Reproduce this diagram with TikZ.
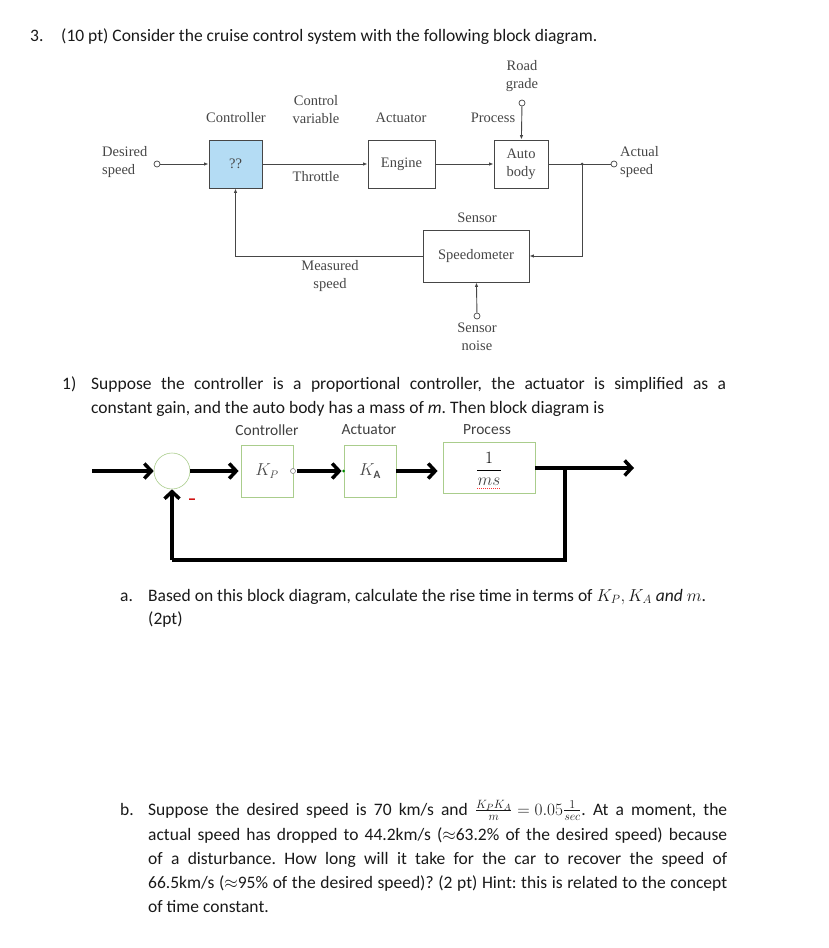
\documentclass[tikz,border=0pt]{standalone}
\usepackage{fontspec}
\setmainfont{Carlito}
\newfontfamily\serif{Liberation Serif}
\usetikzlibrary{arrows.meta,calc}
\definecolor{ctrlblue}{RGB}{180,220,244}
\definecolor{tgray}{RGB}{70,70,70}
\definecolor{boxgreen}{RGB}{170,205,140}
\frenchspacing
\begin{document}
\begin{tikzpicture}[x=1pt,y=-1pt,
  tl/.style={font=\serif\fontsize{14.5}{18}\selectfont, text=tgray, align=center, inner sep=0},
  tbox/.style={draw=tgray, line width=0.9pt, inner sep=0, font=\serif\fontsize{14.5}{18}\selectfont, text=tgray, align=center},
  tline/.style={draw=tgray, line width=0.9pt},
  tarr/.style={tline, -{Latex[length=4.5pt,width=3.5pt]}},
  port/.style={circle, draw=tgray, line width=0.7pt, fill=white, minimum size=6pt, inner sep=0},
  dot/.style={circle, fill=tgray, minimum size=3pt, inner sep=0},
  bbox/.style={draw=boxgreen, line width=0.8pt, inner sep=0, font=\fontsize{16}{18}\selectfont, text=black!70},
  blab/.style={font=\fontsize{15.5}{17}\selectfont, text=black!75, inner sep=0},
  barr/.style={line width=3.5pt, -{Straight Barb[length=7pt,width=15pt,line width=3.5pt]}},
  bline/.style={line width=3.5pt},
  body/.style={font=\fontsize{17.5}{24}\selectfont, anchor=base west, inner sep=0, text=black!90}
]
\useasboundingbox (0,0) rectangle (828,948);

% ---------------- title ----------------
\node[body] (n3) at (30,41) {3.};
\node[body] (title) at (61,41) {(10 pt) Consider the cruise control system with the following block diagram.};

% ---------------- top block diagram ----------------
\node[tbox, fill=ctrlblue, minimum width=53pt, minimum height=48pt] (ctrl) at (235.5,164) {??};
\node[tbox, minimum width=67pt, minimum height=48pt] (eng) at (401.5,164) {Engine};
\node[tbox, minimum width=54pt, minimum height=48pt] (auto) at (521,164) {Auto\\body};
\node[tbox, minimum width=106pt, minimum height=52pt] (speedo) at (476,256) {Speedometer};

\node[port] (din) at (157,164) {};
\node[port] (dout) at (614,164) {};
\node[port] (road) at (522,103) {};
\node[port] (noise) at (477,316) {};
\node[dot] (br) at (582,164) {};

\draw[tarr] (din) -- (ctrl);
\draw[tarr] (ctrl) -- (eng);
\draw[tarr] (eng) -- (auto);
\draw[tline] (auto) -- (dout);
\draw[tarr] (road) -- (auto);
\draw[tarr] (br.center) |- (speedo.east);
\draw[tarr] (speedo.west) -| (ctrl.south);
\draw[tarr] (noise) -- (speedo);

\node[tl, anchor=west, align=left] (ldes) at (102,162) {Desired\\speed};
\node[tl, anchor=west, align=left] (lact) at (620,162) {Actual\\speed};
\node[tl] (lctrl) at (236,118) {Controller};
\node[tl] (lcv) at (316,110) {Control\\variable};
\node[tl] (lact2) at (401,118) {Actuator};
\node[tl] (lproc) at (493,118) {Process};
\node[tl] (lroad) at (522,76) {Road\\grade};
\node[tl] (lthr) at (316,177) {Throttle};
\node[tl] (lsen) at (477,218) {Sensor};
\node[tl] (lmeas) at (330,276) {Measured\\speed};
\node[tl] (lnoise) at (477,337) {Sensor\\noise};

% ---------------- part 1 text ----------------
\node[body] (n1) at (62,389) {1)};
\node[body] (p1a) at (91,389) {\makebox[635pt][s]{Suppose the controller is a proportional controller, the actuator is simplified as a}};
\node[body] (p1b) at (91,413) {constant gain, and the auto body has a mass of \textit{m}. Then block diagram is};

% ---------------- bottom block diagram ----------------
\node[blab] (bl1) at (267,430) {Controller};
\node[blab] (bl2) at (369,430) {Actuator};
\node[blab] (bl3) at (487,430) {Process};

\node[circle, draw=boxgreen, line width=0.6pt, minimum size=36pt, inner sep=0] (sum) at (172,471) {};
\node[bbox, minimum width=52pt, minimum height=52pt] (kp) at (267,471) {$K_P$};
\node[bbox, minimum width=52pt, minimum height=52pt] (ka) at (370,471) {$K_{\mathbf{A}}$};
\node[bbox, minimum width=92pt, minimum height=51pt] (proc) at (489,468) {};
\node[inner sep=0, font=\fontsize{16}{18}\selectfont] (one) at (489,458) {$1$};
\node[inner sep=0, font=\fontsize{16}{18}\selectfont, text=black!75] (ms) at (489,482) {$ms$};
\draw[line width=0.7pt] ($(proc.center)+(-12,2)$) -- ($(proc.center)+(12,2)$);
\draw[red!80, line width=0.6pt, dash pattern=on 1pt off 1pt] ($(ms.south west)+(0,2)$) -- ($(ms.south east)+(0,2)$);

\coordinate (in) at (92,471);
\coordinate (kpo) at (293,471);
\coordinate (fb) at (565,468);
\coordinate (out) at (634,468);
\coordinate (fbc) at (565,560);
\coordinate (fbl) at (172,560);

\draw[barr] (in) -- (sum);
\draw[barr] (sum) -- ($(kp.west)+(-2,0)$);
\draw[barr] ($(kpo)+(4,0)$) -- ($(ka.west)+(-2,0)$);
\draw[barr] (ka) -- ($(proc.west |- ka.east)+(-5,0)$);
\draw[barr] (proc.east) -- (out);
\draw[bline] (fb) -- (fbc) -- (fbl);
\draw[barr] (fbl) -- (sum);
\node[circle, draw=gray, fill=white, line width=0.6pt, minimum size=5pt, inner sep=0] (kpoc) at (kpo) {};
\node[circle, fill=green!55!black, minimum size=3pt, inner sep=0] (kai) at (ka.west) {};
\node[inner sep=0, text=red!80!black, font=\bfseries\fontsize{17}{17}\selectfont] (minus) at (192,502) {--};

% ---------------- part a ----------------
\node[body] (na) at (120,601) {a.};
\node[body] (pa1) at (148,601) {Based on this block diagram, calculate the rise time in terms of $K_P, K_A\ \mathit{and}\ m$.};
\node[body] (pa2) at (148,624) {(2pt)};

% ---------------- part b ----------------
\node[body] (nb) at (120,815) {b.};
\node[body] (pb1) at (148,815) {\makebox[579pt][s]{Suppose the desired speed is 70 km/s and \mbox{$\frac{K_PK_A}{m}=0.05\frac{1}{sec}$}. At a moment, the}};
\node[body] (pb2) at (148,840) {\makebox[579pt][s]{actual speed has dropped to 44.2km/s (\mbox{$\approx$}63.2\% of the desired speed) because}};
\node[body] (pb3) at (148,864) {\makebox[579pt][s]{of a disturbance. How long will it take for the car to recover the speed of}};
\node[body] (pb4) at (148,888) {\makebox[579pt][s]{66.5km/s (\mbox{$\approx$}95\% of the desired speed)? (2 pt) Hint: this is related to the concept}};
\node[body] (pb5) at (148,912) {of time constant.};
\end{tikzpicture}
\end{document}
